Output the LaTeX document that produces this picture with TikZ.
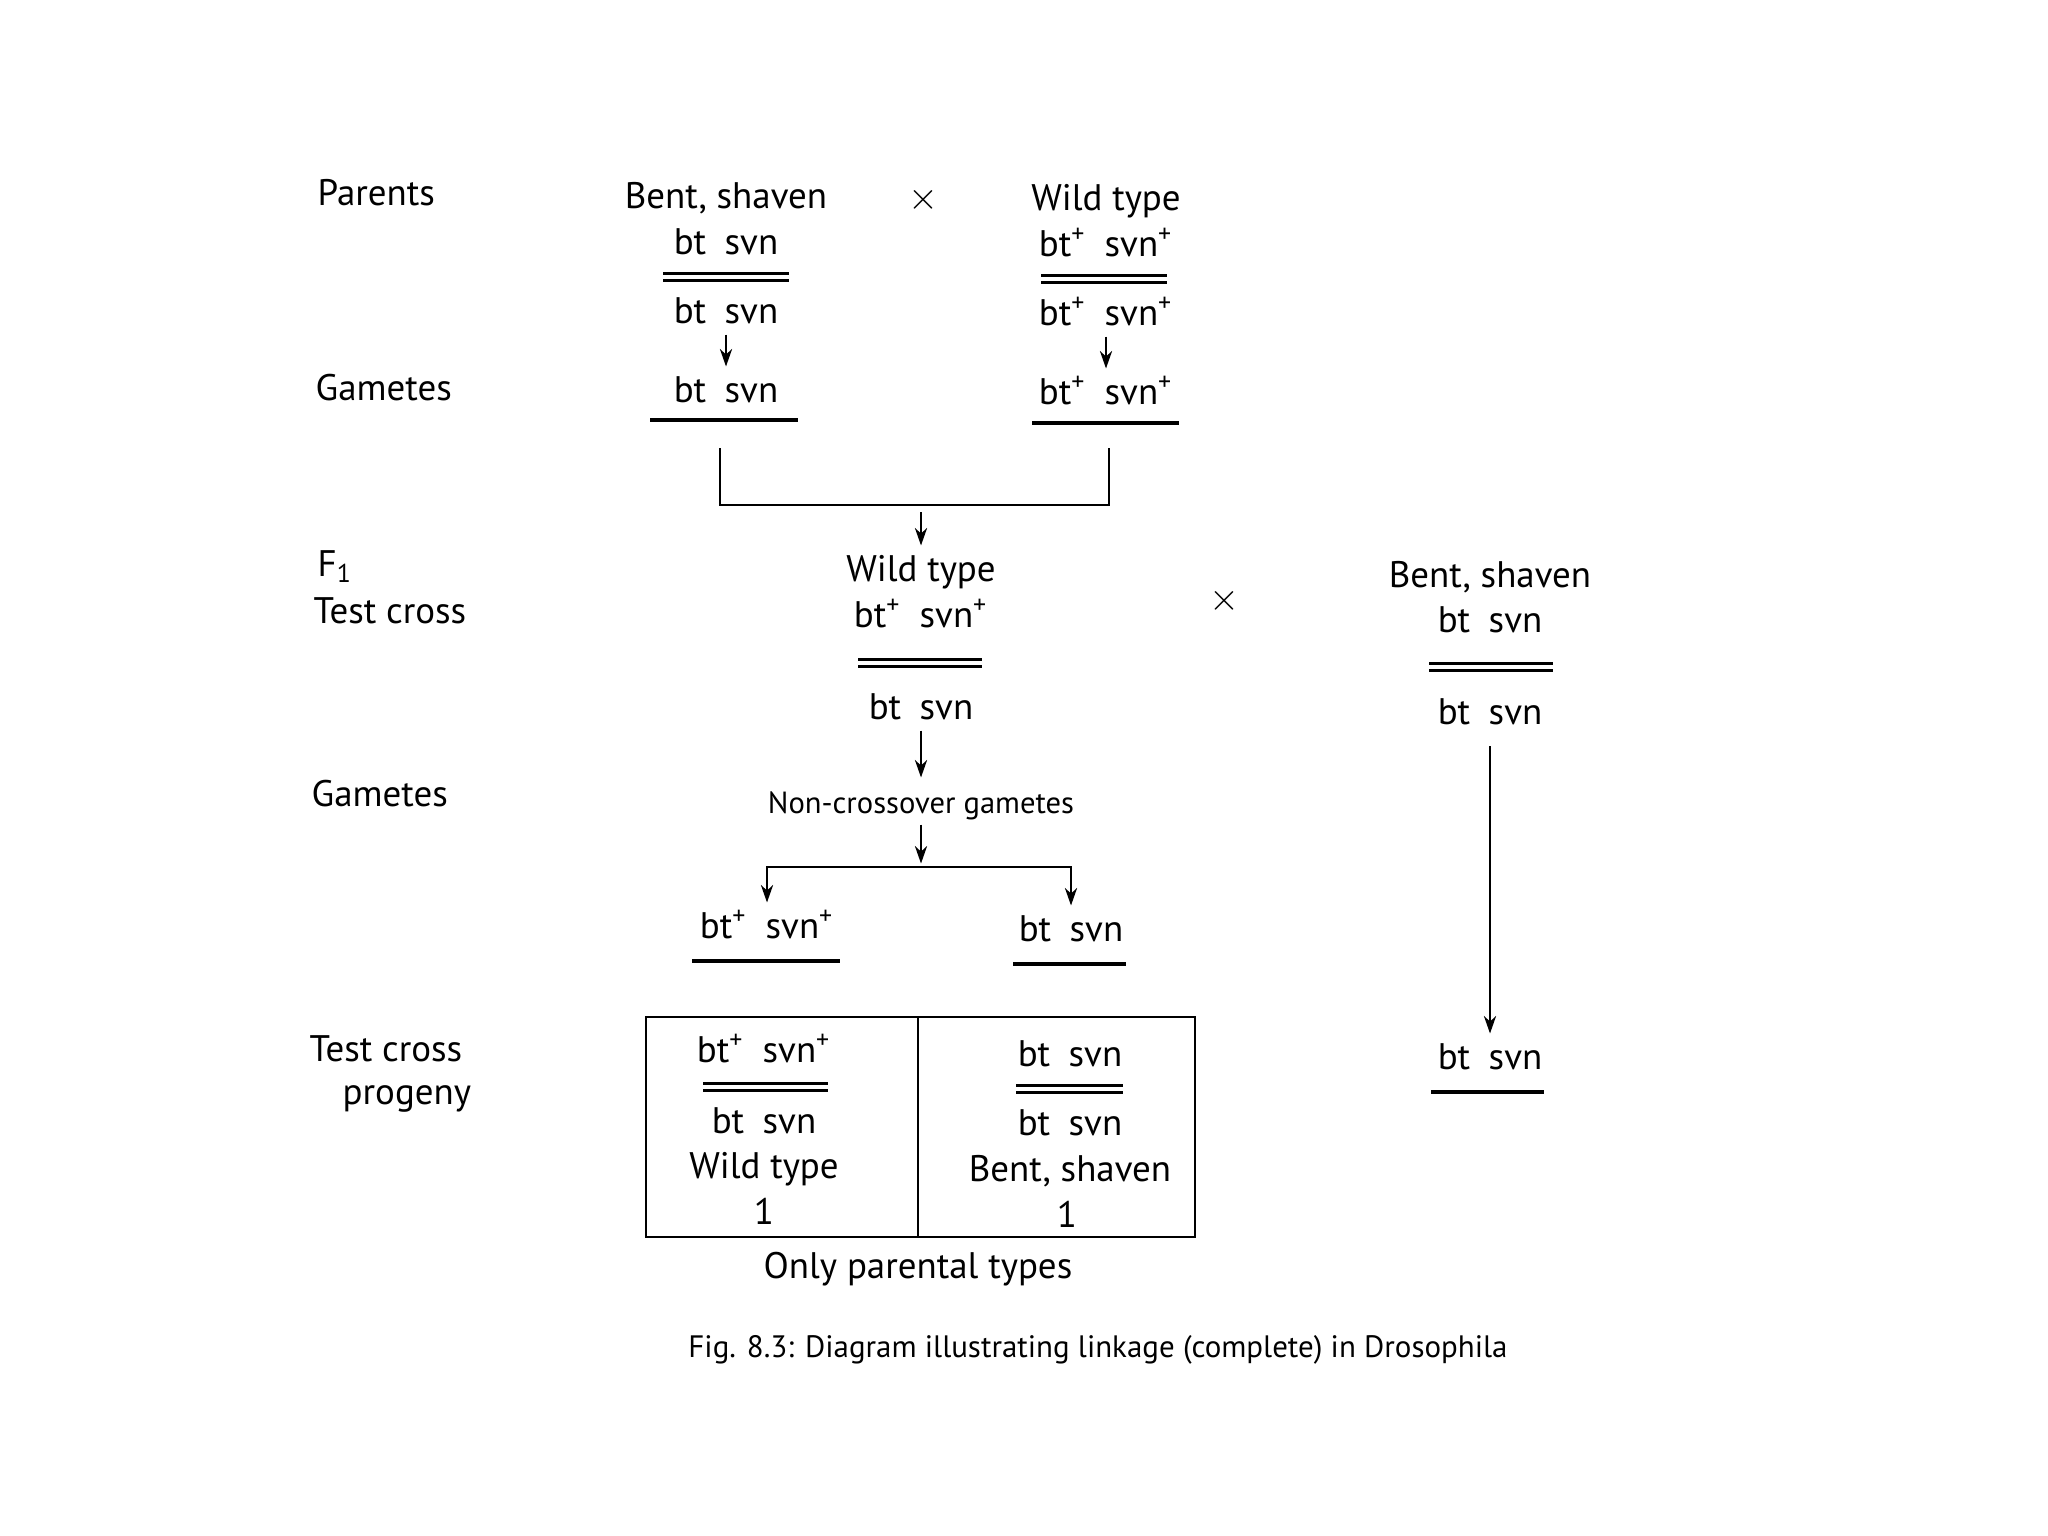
\documentclass[tikz,border=0pt]{standalone}
\usepackage{fontspec}
\setmainfont{PT Sans}
\usepackage{tikz}
\usetikzlibrary{arrows.meta}
\newcommand{\plus}[1]{#1\textsuperscript{+}}
\tikzset{
  lbl/.style={anchor=west, inner sep=0pt, text height=0.8em, text depth=0.1em},
  gene/.style={inner sep=2pt, text height=0.8em, text depth=0.1em},
  pair/.style={line width=0.8pt, double distance=1.1pt},
  gam/.style={line width=0.9pt},
  >={Stealth[length=5pt,width=3.5pt]}
}

\begin{document}
\begin{tikzpicture}[x=0.01cm, y=-0.01cm, font=\fontsize{10.5}{12}\selectfont]
  \useasboundingbox (0,0) rectangle (2048,1536);

  % Row labels
  \node[lbl] (lParents) at (317,193) {Parents};
  \node[lbl] (lGamOne) at (315,388) {Gametes};
  \node[lbl] (lFOne) at (317,564) {F\textsubscript{1}};
  \node[lbl] (lTest) at (313,611) {Test cross};
  \node[lbl] (lGamTwo) at (311,794) {Gametes};
  \node[lbl] (lProg) at (309,1049) {Test cross};
  \node[lbl] (lProgTwo) at (342,1092) {progeny};

  % Parent bent, shaven
  \node[gene] (pA) at (726,196) {Bent, shaven};
  \node[gene] (pAtop) at (726,242) {bt\enspace svn};
  \draw[pair] (663,277) -- (789,277);
  \node[gene] (pAbot) at (726,311) {bt\enspace svn};
  \node[gene] (gA) at (726,390) {bt\enspace svn};
  \draw[gam] (650,420) -- (798,420);
  \draw[->] (pAbot.south) -- (gA.north);

  \node (crossA) at (923,200) {$\times$};

  % Parent wild type
  \node[gene] (pB) at (1106,198) {Wild type};
  \node[gene] (pBtop) at (1106,244) {\plus{bt}\enspace\plus{svn}};
  \draw[pair] (1041,279) -- (1167,279);
  \node[gene] (pBbot) at (1106,313) {\plus{bt}\enspace\plus{svn}};
  \node[gene] (gB) at (1106,392) {\plus{bt}\enspace\plus{svn}};
  \draw[gam] (1032,423) -- (1179,423);
  \draw[->] (pBbot.south) -- (gB.north);

  % F1 hybrid
  \node[gene] (fOne) at (921,569) {Wild type};
  \node[gene] (fTop) at (921,615) {\plus{bt}\enspace\plus{svn}};
  \draw[pair] (858,663) -- (982,663);
  \node[gene] (fBot) at (921,707) {bt\enspace svn};

  % Fusion of gametes
  \coordinate (jA) at (720,448);
  \coordinate (jB) at (1109,448);
  \coordinate (join) at (922,505);
  \coordinate (joinLow) at (921,512);
  \draw[line width=0.7pt] (jA) |- (join) -| (jB);
  \draw[->] (joinLow) -- (fOne.north);

  \node (crossB) at (1224,601) {$\times$};

  % Tester
  \node[gene] (tName) at (1490,575) {Bent, shaven};
  \node[gene] (tTop) at (1490,620) {bt\enspace svn};
  \draw[pair] (1429,667) -- (1553,667);
  \node[gene] (tBot) at (1490,712) {bt\enspace svn};
  \node[gene] (tGam) at (1490,1057) {bt\enspace svn};
  \draw[gam] (1431,1092) -- (1544,1092);
  \draw[->, shorten <=3pt] (tBot.south) -- (tGam.north);

  % F1 gametes
  \node[gene, font=\fontsize{8.7}{10}\selectfont] (ncg) at (921,801) {Non-crossover gametes};
  \draw[->] (fBot.south) -- (ncg.north);
  \coordinate (split) at (921,867);
  \draw[->, shorten >=1pt] (ncg.south) -- (split);
  \node[gene] (gWild) at (767,926) {\plus{bt}\enspace\plus{svn}};
  \draw[gam] (692,961) -- (840,961);
  \node[gene] (gBent) at (1071,929) {bt\enspace svn};
  \draw[gam] (1013,964) -- (1126,964);
  \draw[->] (split) -| (gWild.north);
  \draw[->] (split) -| (gBent.north);

  % Progeny box
  \draw[line width=0.8pt] (646,1017) rectangle (1195,1237);
  \draw[line width=0.8pt] (918,1017) -- (918,1237);
  \node[gene] (cWtop) at (764,1050) {\plus{bt}\enspace\plus{svn}};
  \draw[pair] (703,1087) -- (828,1087);
  \node[gene] (cWbot) at (764,1121) {bt\enspace svn};
  \node[gene] (cWname) at (764,1166) {Wild type};
  \node[gene] (cWnum) at (764,1212) {1};
  \node[gene] (cBtop) at (1070,1054) {bt\enspace svn};
  \draw[pair] (1016,1089) -- (1123,1089);
  \node[gene] (cBbot) at (1070,1123) {bt\enspace svn};
  \node[gene] (cBname) at (1070,1169) {Bent, shaven};
  \node[gene] (cBnum) at (1067,1215) {1};
  \node[gene] (only) at (918,1266) {Only parental types};

  % Caption
  \node[gene, font=\fontsize{8.8}{10}\selectfont] (caption) at (1098,1345) {Fig. 8.3: Diagram illustrating linkage (complete) in Drosophila};
\end{tikzpicture}
\end{document}
